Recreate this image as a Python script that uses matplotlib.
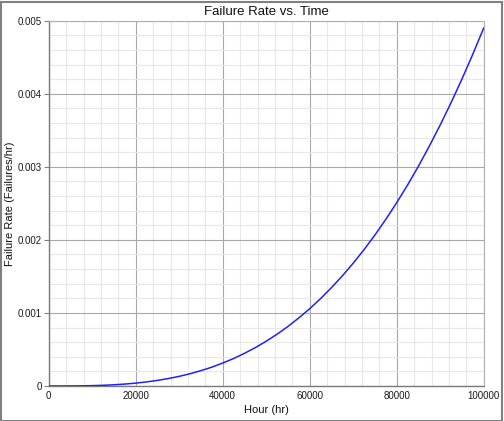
import matplotlib
matplotlib.use("Agg")
import matplotlib.pyplot as plt
from matplotlib.patches import Rectangle
from matplotlib.ticker import MultipleLocator

hours = [0, 2500, 5000, 7500, 10000, 12500, 15000, 17500, 20000, 22500, 25000,
         27500, 30000, 32500, 35000, 37500, 40000, 42500, 45000, 47500, 50000,
         52500, 55000, 57500, 60000, 62500, 65000, 67500, 70000, 72500, 75000,
         77500, 80000, 82500, 85000, 87500, 90000, 92500, 95000, 97500, 100000]
failure_rate = [0.0, 0.00000008, 0.0000006, 0.0000021, 0.0000049, 0.0000096, 0.0000165,
                0.0000263, 0.0000392, 0.0000558, 0.0000766, 0.000102, 0.000132,
                0.000168, 0.000210, 0.000258, 0.000314, 0.000376, 0.000447,
                0.000525, 0.000613, 0.000709, 0.000815, 0.000932, 0.001058,
                0.001196, 0.001346, 0.001507, 0.001681, 0.001867, 0.002067,
                0.002281, 0.002509, 0.002751, 0.003009, 0.003283, 0.003572,
                0.003878, 0.004201, 0.004542, 0.004900]
x_ticks = [0, 20000, 40000, 60000, 80000, 100000]
y_ticks = [0, 0.001, 0.002, 0.003, 0.004, 0.005]
y_tick_labels = ["0", "0.001", "0.002", "0.003", "0.004", "0.005"]

plt.rcParams['font.family'] = ['Liberation Sans', 'DejaVu Sans']
W, H = 504, 421
fig = plt.figure(figsize=(W / 100, H / 100), dpi=100)
ax = fig.add_axes([48.7 / W, (H - 386) / H, (483.7 - 48.7) / W, (386 - 20.7) / H])

ax.plot(hours, failure_rate, color='#2020ff', lw=1.1, zorder=3)

ax.set_xlim(0, 100000)
ax.set_ylim(0, 0.005)
ax.set_xticks(x_ticks)
ax.set_xticklabels([str(v) for v in x_ticks])
ax.set_yticks(y_ticks)
ax.set_yticklabels(y_tick_labels)
ax.xaxis.set_minor_locator(MultipleLocator(4000))
ax.yaxis.set_minor_locator(MultipleLocator(0.0002))

ax.grid(which='major', color='#a8a8a8', lw=0.8, zorder=1)
ax.grid(which='minor', color='#e8e8e8', lw=0.8, zorder=0)
ax.set_axisbelow(True)
ax.tick_params(which='major', width=0.8, color='#808080', labelsize=7,
               labelcolor='#1a1a1a')
ax.tick_params(axis='y', which='major', length=3.5, pad=1.5)
ax.tick_params(axis='x', which='major', length=0, pad=3.5)
ax.tick_params(which='minor', length=0)

for s in ['left', 'bottom']:
    ax.spines[s].set_color('#7a7a7a')
    ax.spines[s].set_linewidth(1.0)
for s in ['top', 'right']:
    ax.spines[s].set_color('#b0b0b0')
    ax.spines[s].set_linewidth(0.8)

ax.set_title("Failure Rate vs. Time", fontsize=9.5, pad=4, color='#111111')
ax.set_xlabel("Hour (hr)", fontsize=8, color='#111111')
ax.set_ylabel("Failure Rate (Failures/hr)", fontsize=8, color='#111111')
ax.xaxis.set_label_coords(0.5, -(410 - 386) / (386 - 20.7))
ax.yaxis.set_label_coords(-(48.7 - 10) / (483.7 - 48.7), 0.5)
ax.xaxis.label.set_va('center')
ax.yaxis.label.set_va('center')

fig.patches.append(Rectangle((0.5 / W, 0.5 / H), (W - 2.5) / W, (H - 2.5) / H,
                             transform=fig.transFigure, fill=False,
                             edgecolor='#808080', lw=1.5))

fig.savefig("out.png", dpi=100)
